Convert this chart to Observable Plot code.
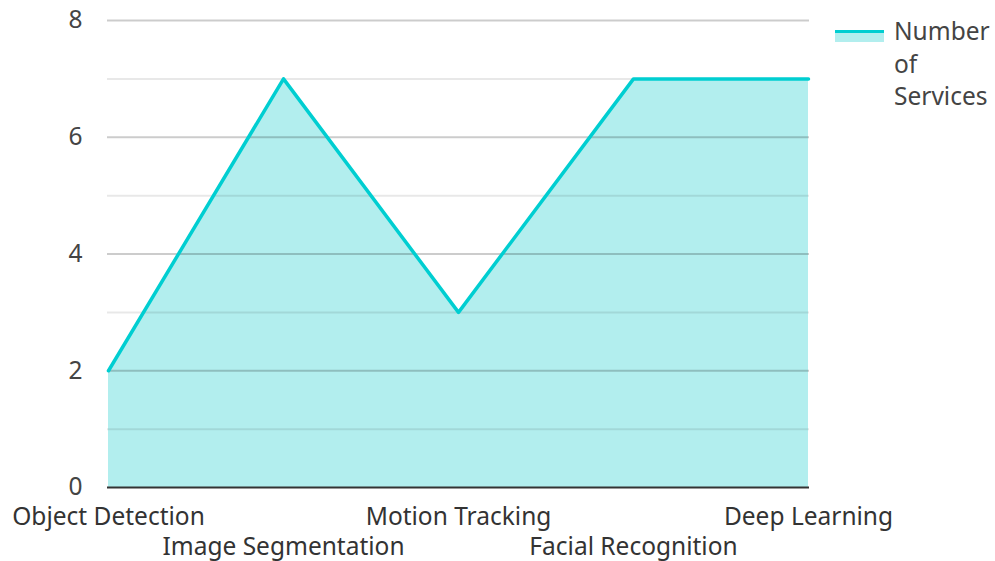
<!DOCTYPE html>
<html><head><meta charset="utf-8">
<script src="https://cdn.jsdelivr.net/npm/d3@7"></script>
<script src="https://cdn.jsdelivr.net/npm/@observablehq/plot@0.6"></script>
<style>
body{margin:0;background:#fff;font-family:"Noto Sans",sans-serif;}
#wrap{position:relative;width:995px;height:561px;}
#legend{position:absolute;left:835px;top:15px;display:flex;align-items:flex-start;color:#444;font-size:24.5px;line-height:32.5px;}
#sw{width:49px;height:12px;margin-top:15px;margin-right:10px;background:#b2eeee;border-top:3px solid #00ced1;box-sizing:border-box;}
</style></head>
<body><div id="wrap"><div id="chart"></div><div id="legend"><div id="sw"></div><div>Number<br>of<br>Services</div></div></div>
<script>
const categories = ["Object Detection","Image Segmentation","Motion Tracking","Facial Recognition","Deep Learning"];
const services = [2,7,3,7,7];
const yTicks = [0,2,4,6,8];
const gridValues = [1,2,3,4,5,6,7,8];
const data = categories.map((c,i)=>({cat:c, v:services[i], i}));
const chart = Plot.plot({
  width:995, height:561,
  marginLeft:107, marginRight:186, marginTop:20, marginBottom:74,
  style:{fontFamily:"Noto Sans", fontSize:"24.5px", color:"#444", background:"#fff"},
  x:{type:"point", domain:categories, axis:null, padding:0},
  y:{domain:[0,8], axis:null},
  marks:[
    Plot.areaY(data,{x:"cat", y:"v", fill:"#b2eeee"}),
    Plot.ruleY(gridValues,{stroke:d=>d%2===0?"rgba(0,0,0,0.2)":"rgba(0,0,0,0.09)", strokeWidth:2}),
    Plot.lineY(data,{x:"cat", y:"v", stroke:"#00ced1", strokeWidth:3.5}),
    Plot.ruleY([0],{stroke:"#333", strokeWidth:2}),
    Plot.axisY(yTicks,{tickSize:0, tickPadding:25, fontSize:24.5, fill:"#444", label:null, tickFormat:d=>String(d)}),
    Plot.text(data.filter(d=>d.i%2===0),{x:"cat", y:()=>0, text:"cat", dy:30, fontSize:24.5, fill:"#333", lineAnchor:"middle"}),
    Plot.text(data.filter(d=>d.i%2===1),{x:"cat", y:()=>0, text:"cat", dy:60, fontSize:24.5, fill:"#333", lineAnchor:"middle"})
  ]
});
document.getElementById("chart").appendChild(chart);
</script></body></html>
